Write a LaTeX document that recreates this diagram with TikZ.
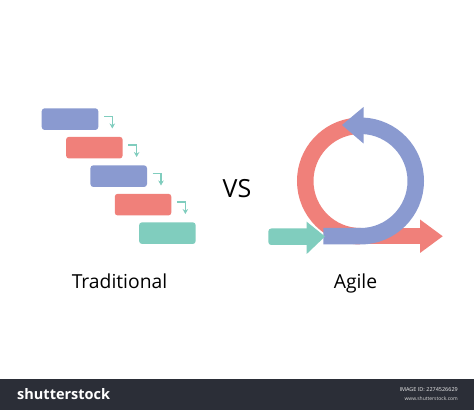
\documentclass[tikz,border=0pt]{standalone}
\usepackage{fontspec}
\setmainfont{Open Sans}
\usetikzlibrary{arrows.meta}
\definecolor{cblue}{HTML}{8A9AD0}
\definecolor{cred}{HTML}{F0807A}
\definecolor{cteal}{HTML}{80CDBE}
\definecolor{cfoot}{HTML}{2B2E37}
\begin{document}
\begin{tikzpicture}[x=1pt,y=1pt,
  stepbox/.style={rounded corners=3pt,draw=none},
  minarrow/.style={draw=cteal,line width=1.5pt,-{Stealth[length=5pt,width=5.5pt]}},
  label/.style={font=\fontsize{19.3}{22}\selectfont,anchor=base,inner sep=0pt}]
\useasboundingbox (0,0) rectangle (474,410);
\fill[white] (0,0) rectangle (474,410);
% ---- traditional stair boxes
\foreach \i/\c in {0/cblue,1/cred,2/cblue,3/cred,4/cteal}{
  \path[stepbox,fill=\c] ({41.7+24.35*\i},{280-28.5*\i}) rectangle ({98.3+24.35*\i},{301.7-28.5*\i});
  \node[inner sep=0pt] (b\i) at ({70+24.35*\i},{290.85-28.5*\i}) {};
}
\foreach \i in {0,1,2,3}{
  \coordinate (s\i) at ({104+24.35*\i},{293.3-28.5*\i});
  \coordinate (k\i) at ({112.3+24.35*\i},{293.3-28.5*\i});
  \coordinate (e\i) at ({112.3+24.35*\i},{281.5-28.5*\i});
  \draw[minarrow] (s\i) -- (k\i) -- (e\i);
}
% ---- agile cycle
\coordinate (c) at (360.5,229);
% red ring + red arrow
\draw[cred,line width=16.5pt] (360.5,173.75) arc[start angle=270,end angle=95,radius=55.25];
\draw[cred,line width=15.5pt] (360.5,173.75) -- (421,173.75);
\fill[cred] (420,190.5) -- (442.7,173.75) -- (420,157) -- cycle;
% blue ring with bar and head
\draw[cblue,line width=16.5pt] (323.3,173.75) -- (360.5,173.75) arc[start angle=-90,end angle=88,radius=55.25];
\fill[cblue] (363.5,303) -- (342,285) -- (363.5,266.5) -- cycle;
% teal arrow
\fill[cteal,rounded corners=3pt] (268.3,165) rectangle (310,181.5);
\fill[cteal] (306.7,188.3) -- (325,173.5) -- (306.7,156) -- cycle;
% ---- labels
\node[label] (trad) at (119.5,121.7) {Traditional};
\node[label] (agile) at (355.5,121.7) {Agile};
\node[font=\fontsize{25}{30}\selectfont,anchor=base,inner sep=0pt] (vs) at (237,212) {VS};
% ---- footer
\fill[cfoot] (0,0) rectangle (474,31);
\node[anchor=west,inner sep=0pt,text=white,font=\fontsize{14.5}{17}\selectfont\bfseries] (logo) at (17,15.5) {shutterstock};
\node[anchor=east,inner sep=0pt,text=white!85!gray,font=\fontsize{5.5}{7}\selectfont] (imgid) at (458,20) {IMAGE ID: 2274526629};
\node[anchor=east,inner sep=0pt,text=white!70!gray,font=\fontsize{5}{6}\selectfont] (www) at (458,11) {www.shutterstock.com};
\end{tikzpicture}
\end{document}
